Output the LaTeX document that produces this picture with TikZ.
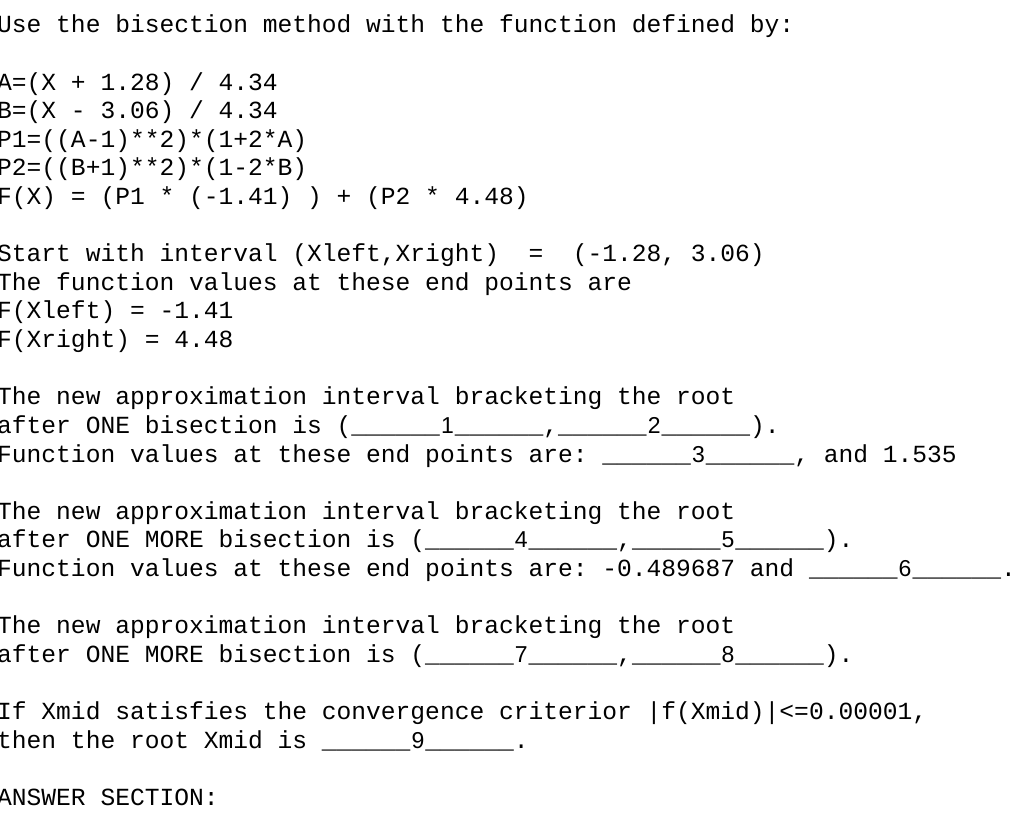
\documentclass[tikz,border=0pt]{standalone}
\usepackage{fontspec}
\setmonofont{Liberation Mono}
\newfontfamily\digitfont{Liberation Sans}
\newcommand{\blankno}[1]{\_\_\_\_\_\_\makebox[14.8pt]{\digitfont\fontsize{23}{23}\selectfont #1}\_\_\_\_\_\_}
\tikzset{ln/.style={anchor=base west,inner sep=0pt,font=\ttfamily\fontsize{24.6}{28}\selectfont}}
\begin{document}
\begin{tikzpicture}[x=1pt,y=1pt]
\useasboundingbox[fill=white] (0,0) rectangle (1024,812);
\def\X{-3}
\newcommand{\Y}[1]{812-33-28.6*#1}
\node[ln] (l0) at (\X,{\Y{0}}) {Use the bisection method with the function defined by:};
\node[ln] (l2) at (\X,{\Y{2}}) {A=(X + 1.28) / 4.34};
\node[ln] (l3) at (\X,{\Y{3}}) {B=(X - 3.06) / 4.34};
\node[ln] (l4) at (\X,{\Y{4}}) {P1=((A-1)**2)*(1+2*A)};
\node[ln] (l5) at (\X,{\Y{5}}) {P2=((B+1)**2)*(1-2*B)};
\node[ln] (l6) at (\X,{\Y{6}}) {F(X) = (P1 * (-1.41) ) + (P2 * 4.48)};
\node[ln] (l8) at (\X,{\Y{8}}) {Start with interval (Xleft,Xright) ~=~ (-1.28, 3.06)};
\node[ln] (l9) at (\X,{\Y{9}}) {The function values at these end points are};
\node[ln] (l10) at (\X,{\Y{10}}) {F(Xleft) = -1.41};
\node[ln] (l11) at (\X,{\Y{11}}) {F(Xright) = 4.48};
\node[ln] (l13) at (\X,{\Y{13}}) {The new approximation interval bracketing the root};
\node[ln] (l14) at (\X,{\Y{14}}) {after ONE bisection is (\blankno{1},\blankno{2}).};
\node[ln] (l15) at (\X,{\Y{15}}) {Function values at these end points are: \blankno{3}, and 1.535};
\node[ln] (l17) at (\X,{\Y{17}}) {The new approximation interval bracketing the root};
\node[ln] (l18) at (\X,{\Y{18}}) {after ONE MORE bisection is (\blankno{4},\blankno{5}).};
\node[ln] (l19) at (\X,{\Y{19}}) {Function values at these end points are: -0.489687 and \blankno{6}.};
\node[ln] (l21) at (\X,{\Y{21}}) {The new approximation interval bracketing the root};
\node[ln] (l22) at (\X,{\Y{22}}) {after ONE MORE bisection is (\blankno{7},\blankno{8}).};
\node[ln] (l24) at (\X,{\Y{24}}) {If Xmid satisfies the convergence criterior |f(Xmid)|<=0.00001,};
\node[ln] (l25) at (\X,{\Y{25}}) {then the root Xmid is \blankno{9}.};
\node[ln] (l27) at (\X,{\Y{27}}) {ANSWER SECTION:};
\end{tikzpicture}
\end{document}
